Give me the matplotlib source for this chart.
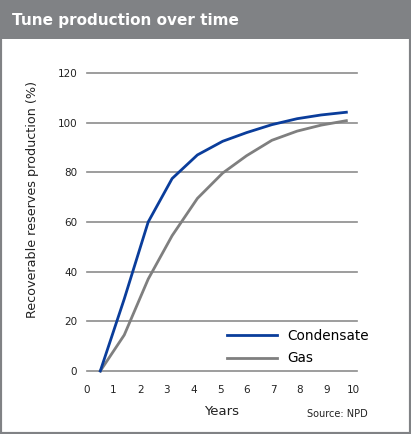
import matplotlib

matplotlib.use("Agg")
import matplotlib.pyplot as plt
from matplotlib.patches import Rectangle

years_cond = [0.5, 1.4, 2.3, 3.2, 4.15, 5.1, 6.0, 6.95, 7.9, 8.8, 9.75]
condensate = [0, 29, 60, 77.5, 87, 92.5, 96, 99.2, 101.6, 103.1, 104.2]
years_gas = [0.5, 1.4, 2.3, 3.2, 4.15, 5.1, 6.0, 6.95, 7.9, 8.8, 9.75]
gas = [0, 14.5, 37, 54.5, 69.5, 79.7, 86.7, 92.9, 96.6, 99, 100.8]
x_ticks = list(range(0, 11))
y_ticks = [0, 20, 40, 60, 80, 100, 120]

BLUE = "#0a3d9b"
GREY = "#7f7f7f"
FRAME = "#808285"

fig = plt.figure(figsize=(4.11, 4.34), dpi=100, facecolor="white")
W, H = 411, 434

# frame and title bar
fig.patches.append(Rectangle((0, 0), 1, 1, transform=fig.transFigure,
                             facecolor="none", edgecolor=FRAME, linewidth=3))
fig.patches.append(Rectangle((0, 1 - 39 / H), 1, 39 / H, transform=fig.transFigure,
                             facecolor=FRAME, edgecolor="none"))
fig.text(12 / W, 1 - 20 / H, "Tune production over time", color="white",
         fontsize=11, fontweight="bold", va="center", ha="left")

ax = fig.add_axes([87 / W, 63 / H, 270 / W, 298 / H])
ax.set_xlim(0, 10.15)
ax.set_ylim(0, 120)
for y in y_ticks:
    ax.axhline(y, color="#8c8c8c", linewidth=1.2, zorder=1, clip_on=False)

ax.plot(years_cond, condensate, color=BLUE, linewidth=2, label="Condensate",
        zorder=3, clip_on=False)
ax.plot(years_gas, gas, color=GREY, linewidth=2, label="Gas",
        zorder=2, clip_on=False)

for s in ax.spines.values():
    s.set_visible(False)
ax.set_xticks(x_ticks)
ax.set_yticks(y_ticks)
ax.tick_params(length=0, labelsize=7.5, colors="#222222")
ax.tick_params(axis="x", pad=10)
ax.tick_params(axis="y", pad=7)
ax.set_ylabel("Recoverable reserves production (%)", fontsize=9.2,
              color="#222222")
ax.yaxis.set_label_coords(-0.178, 0.574)
ax.set_xlabel("Years", fontsize=9.5, color="#222222")
ax.xaxis.set_label_coords(0.5, -0.115)

ax.legend(loc="lower right", bbox_to_anchor=(1.09, -0.022), frameon=False,
          fontsize=9.8, handlelength=3.7, handletextpad=0.75, labelspacing=0.6)

fig.text(368 / W, 1 - 414 / H, "Source: NPD", fontsize=7, color="#222222",
         ha="right", va="center")

fig.savefig("out.png", dpi=100)
